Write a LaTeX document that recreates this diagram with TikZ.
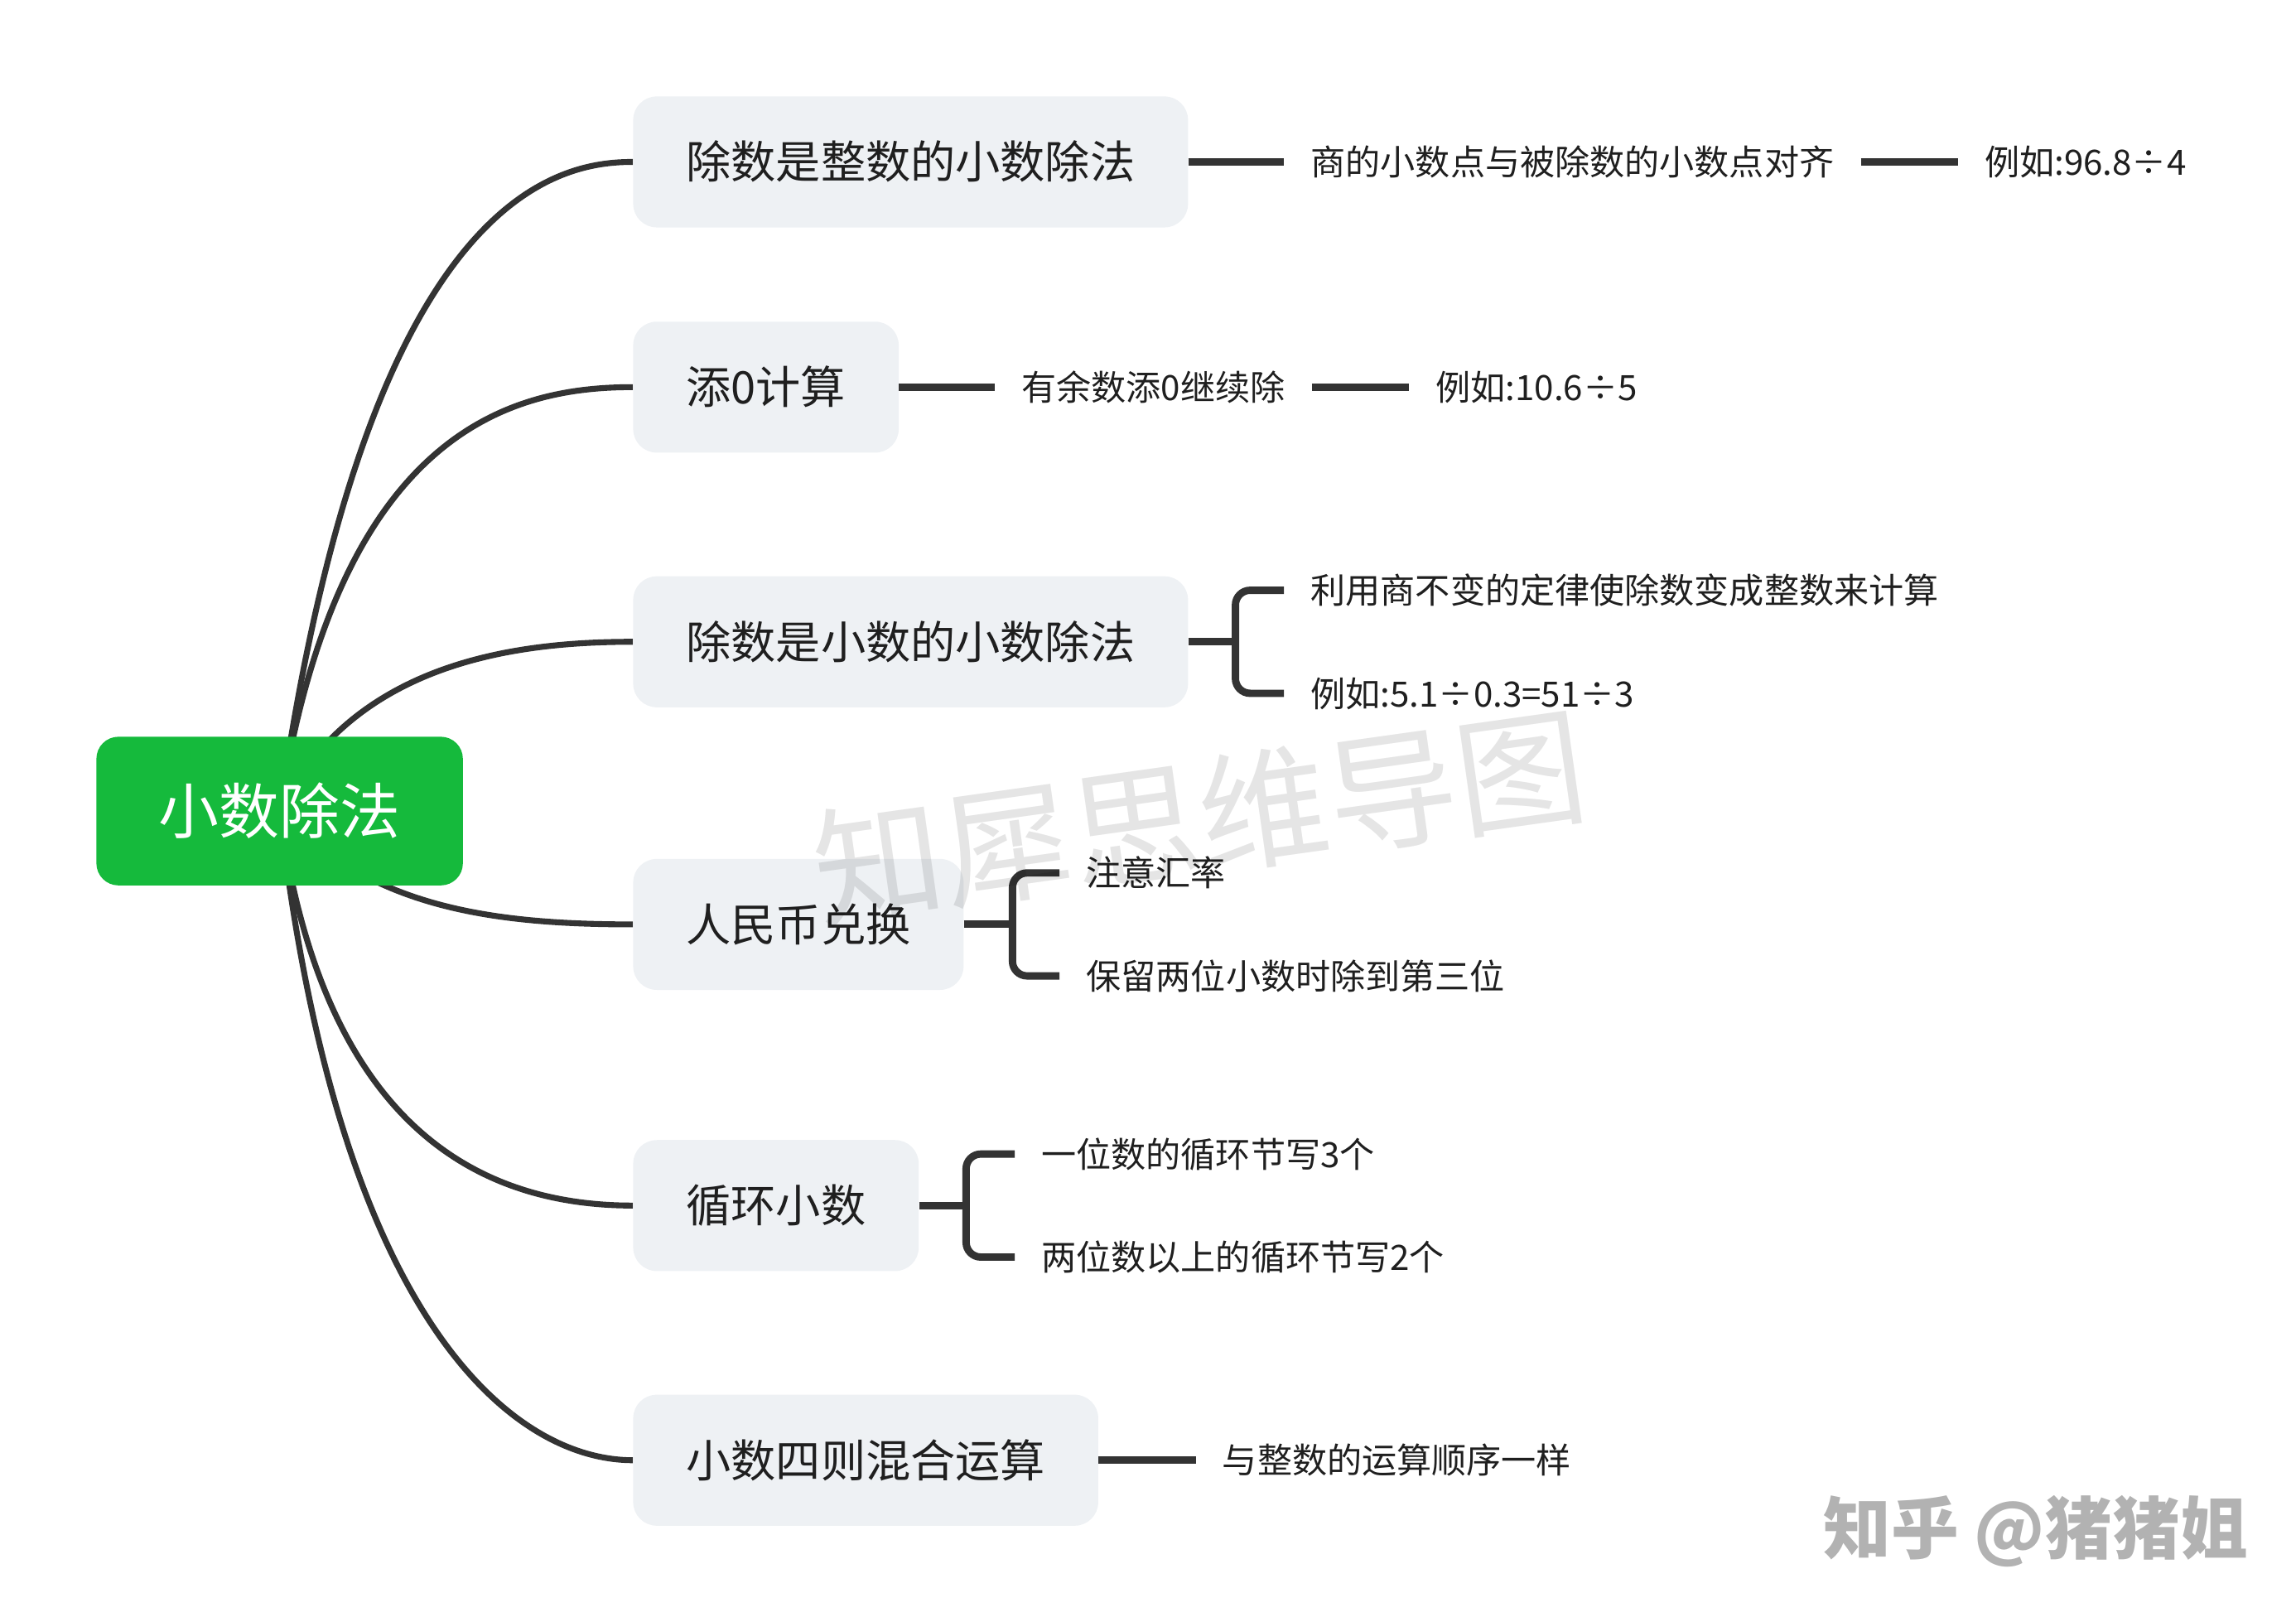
\documentclass[tikz,border=0pt]{standalone}
\usepackage{fontspec}
\setmainfont{Noto Sans CJK SC}
\usetikzlibrary{positioning,backgrounds}
\definecolor{rootgreen}{HTML}{15BA3C}
\definecolor{boxgray}{HTML}{EEF1F4}
\definecolor{linegray}{HTML}{333333}
\definecolor{textdark}{HTML}{1F1F1F}

\begin{document}
\begin{tikzpicture}[x=1pt,y=-1pt,node distance=65pt,
    root/.style={fill=rootgreen,rounded corners=15pt,minimum width=249pt,minimum height=101pt,
        text=white,font=\fontsize{41}{48}\selectfont},
    topic/.style={fill=boxgray,rounded corners=16pt,anchor=west,minimum height=89pt,inner xsep=36pt,
        text=textdark,font=\fontsize{30.5}{36}\selectfont,text height=26.8pt,text depth=3.7pt},
    sub/.style={inner xsep=18pt,inner ysep=0pt,text=textdark,font=\fontsize{23.7}{28}\selectfont,
        text height=20.9pt,text depth=2.8pt},
    branch/.style={draw=linegray,line width=4pt},
    link/.style={draw=linegray,line width=5pt}]
    \useasboundingbox (0,0) rectangle (1560,1098);

    % Zentrum
    \node[root] (root) at (190,551) {小数除法};

    % Hauptäste
    \node[topic] (t1) at (430,110) {除数是整数的小数除法};
    \node[topic] (t2) at (430,263) {添0计算};
    \node[topic] (t3) at (430,436) {除数是小数的小数除法};
    \node[topic] (t4) at (430,628) {人民币兑换};
    \node[topic] (t5) at (430,819) {循环小数};
    \node[topic] (t6) at (430,992) {小数四则混合运算};

    \begin{scope}[on background layer]
        \draw[branch] (root.center) .. controls +(60,-421) and +(-50,0) .. (t1.west);
        \draw[branch] (root.center) .. controls +(40,-261) and +(-80,0) .. (t2.west);
        \draw[branch] (root.center) .. controls +(50,-101) and +(-80,0) .. (t3.west);
        \draw[branch] (root.center) .. controls +(60,64) and +(-100,0) .. (t4.west);
        \draw[branch] (root.center) .. controls +(30,219) and +(-100,0) .. (t5.west);
        \draw[branch] (root.center) .. controls +(40,349) and +(-80,0) .. (t6.west);
    \end{scope}

    % Unteräste
    \node[sub,right=of t1] (s1) {商的小数点与被除数的小数点对齐};
    \node[sub,right=66pt of s1] (e1) {例如:96.8÷4};
    \draw[link] (t1.east) -- (s1.west);
    \draw[link] (s1.east) -- (e1.west);

    \node[sub,right=of t2] (s2) {有余数添0继续除};
    \node[sub,right=66pt of s2] (e2) {例如:10.6÷5};
    \draw[link] (t2.east) -- (s2.west);
    \draw[link] (s2.east) -- (e2.west);

    \node[sub,right=of t3,yshift=35pt] (s3a) {利用商不变的定律使除数变成整数来计算};
    \node[sub,right=of t3,yshift=-35pt] (s3b) {例如:5.1÷0.3=51÷3};
    \path (t3.east) ++(32,0) coordinate (j3);
    \draw[link] (t3.east) -- (j3);
    \draw[link,rounded corners=10pt] (s3a.west) -| (j3) |- (s3b.west);

    \node[sub,right=of t4,yshift=35pt] (s4a) {注意汇率};
    \node[sub,right=of t4,yshift=-35pt] (s4b) {保留两位小数时除到第三位};
    \path (t4.east) ++(33,0) coordinate (j4);
    \draw[link] (t4.east) -- (j4);
    \draw[link,rounded corners=10pt] (s4a.west) -| (j4) |- (s4b.west);

    \node[sub,right=of t5,yshift=35pt] (s5a) {一位数的循环节写3个};
    \node[sub,right=of t5,yshift=-35pt] (s5b) {两位数以上的循环节写2个};
    \path (t5.east) ++(32,0) coordinate (j5);
    \draw[link] (t5.east) -- (j5);
    \draw[link,rounded corners=10pt] (s5a.west) -| (j5) |- (s5b.west);

    \node[sub,right=66pt of t6] (s6) {与整数的运算顺序一样};
    \draw[link] (t6.east) -- (s6.west);

    % Wasserzeichen
    \node[rotate=8,opacity=0.1,font=\fontsize{88}{100}\selectfont] (mark) at (815,555) {知犀思维导图};
    \node[text=black!30,font=\fontsize{46}{52}\selectfont\bfseries] (zhihu) at (1383,1040) {知乎 @猪猪姐};
\end{tikzpicture}
\end{document}
